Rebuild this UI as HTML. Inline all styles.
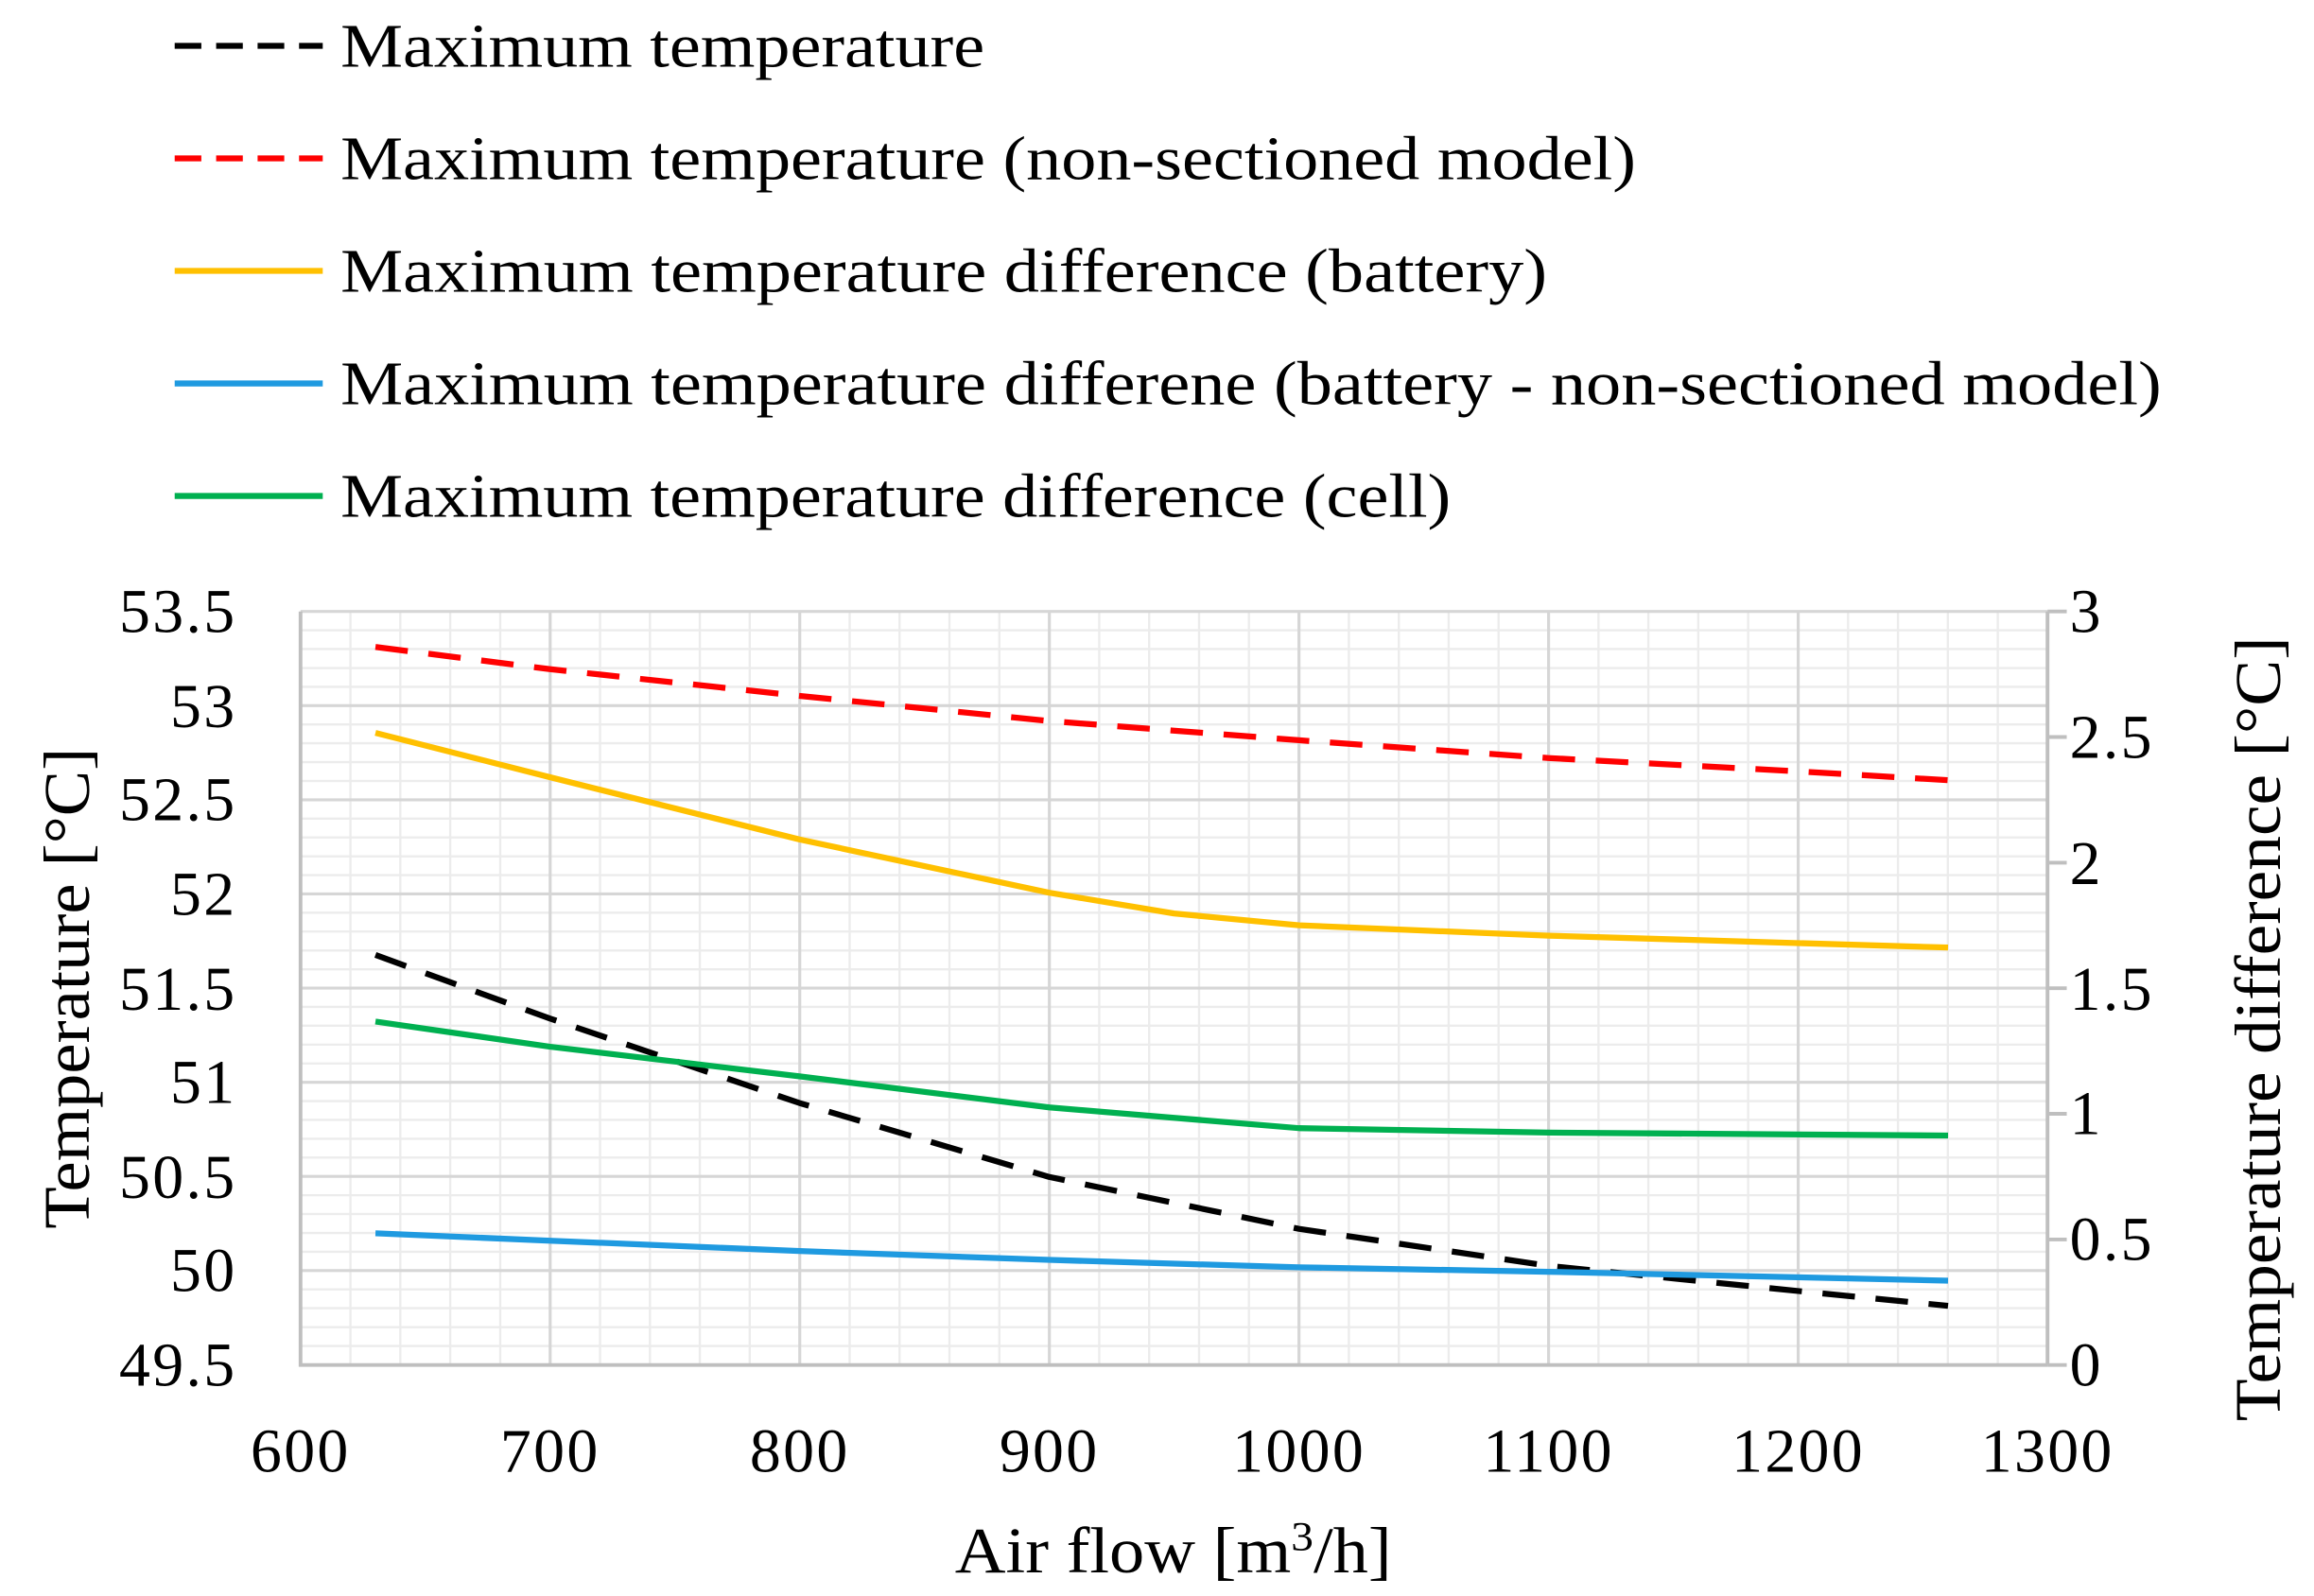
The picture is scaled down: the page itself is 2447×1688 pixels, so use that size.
<!DOCTYPE html>
<html><head><meta charset="utf-8"><style>html,body{margin:0;padding:0;background:#fff}svg{display:block}</style></head>
<body>
<svg width="2447" height="1688" viewBox="0 0 1563 1078" preserveAspectRatio="none" xmlns="http://www.w3.org/2000/svg" font-family="'Liberation Serif', serif" fill="#000">
<g stroke="#ececec" stroke-width="1.5">
<path d="M203 425.7H1383M203 438.4H1383M203 451.2H1383M203 463.9H1383M203 489.3H1383M203 502H1383M203 514.8H1383M203 527.5H1383M203 552.9H1383M203 565.6H1383M203 578.4H1383M203 591.1H1383M203 616.5H1383M203 629.2H1383M203 642H1383M203 654.7H1383M203 680.1H1383M203 692.8H1383M203 705.6H1383M203 718.3H1383M203 743.7H1383M203 756.4H1383M203 769.2H1383M203 781.9H1383M203 807.3H1383M203 820H1383M203 832.8H1383M203 845.5H1383M203 870.9H1383M203 883.6H1383M203 896.4H1383M203 909.1H1383"/>
<path d="M236.7 413V922M270.4 413V922M304.1 413V922M337.9 413V922M405.3 413V922M439 413V922M472.7 413V922M506.4 413V922M573.9 413V922M607.6 413V922M641.3 413V922M675 413V922M742.5 413V922M776.2 413V922M809.9 413V922M843.6 413V922M911.1 413V922M944.8 413V922M978.5 413V922M1012.2 413V922M1079.7 413V922M1113.4 413V922M1147.1 413V922M1180.8 413V922M1248.3 413V922M1282 413V922M1315.7 413V922M1349.4 413V922"/>
</g>
<g stroke="#d6d6d6" stroke-width="2">
<path d="M203 476.6H1383M203 540.2H1383M203 603.8H1383M203 667.4H1383M203 731H1383M203 794.6H1383M203 858.2H1383M203 413H1383"/>
<path d="M371.6 413V922M540.2 413V922M708.8 413V922M877.4 413V922M1046 413V922M1214.6 413V922"/>
</g>
<g stroke="#bfbfbf" stroke-width="2.5" fill="none">
<path d="M203 413V922H1383M1383 413V922"/>
<path d="M1383 413H1396M1383 497.8H1396M1383 582.7H1396M1383 667.5H1396M1383 752.3H1396M1383 837.2H1396M1383 922H1396"/>
</g>
<g fill="none" stroke-width="4" stroke-linejoin="round" stroke-linecap="butt">
<polyline stroke="#ff0000" stroke-dasharray="22,14" points="253.6,437 371.6,452 540,470 708.8,487 877.4,500 1046,512 1214.6,521 1315.8,527"/>
<polyline stroke="#000" stroke-dasharray="22,14" points="253.6,645 371.6,688 540,745 708.8,795 877.4,830 1046,855 1214.6,872 1315.8,882"/>
<polyline stroke="#ffc000" points="253.6,495 371.6,525 540,567 708.8,603 793,617 877.4,625 1046,632 1214.6,637 1315.8,640"/>
<polyline stroke="#00b050" points="253.6,690 371.6,707 540,727 708.8,748 793,755 877.4,762 1046,765 1315.8,767"/>
<polyline stroke="#1f9ae0" points="253.6,833 371.6,838 540,845 708.8,851 877.4,856 1046,859 1315.8,865"/>
</g>
<g font-size="42" text-anchor="end" letter-spacing="1.5">
<text x="160" y="427">53.5</text><text x="160" y="491">53</text><text x="160" y="554">52.5</text><text x="160" y="618">52</text><text x="160" y="682">51.5</text><text x="160" y="745">51</text><text x="160" y="809">50.5</text><text x="160" y="872">50</text><text x="160" y="936">49.5</text>
</g>
<g font-size="42" text-anchor="start" letter-spacing="1.5">
<text x="1398" y="427">3</text><text x="1398" y="512">2.5</text><text x="1398" y="597">2</text><text x="1398" y="682">1.5</text><text x="1398" y="766">1</text><text x="1398" y="851">0.5</text><text x="1398" y="936">0</text>
</g>
<g font-size="42" text-anchor="middle" letter-spacing="1.5">
<text x="203" y="994">600</text><text x="371.6" y="994">700</text><text x="540.2" y="994">800</text><text x="708.8" y="994">900</text><text x="877.4" y="994">1000</text><text x="1046" y="994">1100</text><text x="1214.6" y="994">1200</text><text x="1383" y="994">1300</text>
</g>
<text x="645" y="1062" font-size="44" textLength="295" lengthAdjust="spacingAndGlyphs">Air flow [m<tspan font-size="28" dy="-15">3</tspan><tspan dy="15">/h]</tspan></text>
<text transform="translate(60,830) rotate(-90)" font-size="44" textLength="325" lengthAdjust="spacingAndGlyphs">Temperature [°C]</text>
<text transform="translate(1540,960) rotate(-90)" font-size="44" textLength="530" lengthAdjust="spacingAndGlyphs">Temperature difference [°C]</text>
<g stroke-width="4">
<line x1="118" y1="31" x2="218" y2="31" stroke="#000" stroke-dasharray="18,10"/>
<line x1="118" y1="107" x2="218" y2="107" stroke="#ff0000" stroke-dasharray="18,10"/>
<line x1="118" y1="183" x2="218" y2="183" stroke="#ffc000"/>
<line x1="118" y1="259" x2="218" y2="259" stroke="#1f9ae0"/>
<line x1="118" y1="335" x2="218" y2="335" stroke="#00b050"/>
</g>
<g font-size="42">
<text x="230" y="45" textLength="435" lengthAdjust="spacingAndGlyphs">Maximum temperature</text>
<text x="230" y="121" textLength="875" lengthAdjust="spacingAndGlyphs">Maximum temperature (non-sectioned model)</text>
<text x="230" y="197" textLength="815" lengthAdjust="spacingAndGlyphs">Maximum temperature difference (battery)</text>
<text x="230" y="273" textLength="1230" lengthAdjust="spacingAndGlyphs">Maximum temperature differene (battery - non-sectioned model)</text>
<text x="230" y="349" textLength="750" lengthAdjust="spacingAndGlyphs">Maximum temperature difference (cell)</text>
</g>
</svg>
</body></html>
